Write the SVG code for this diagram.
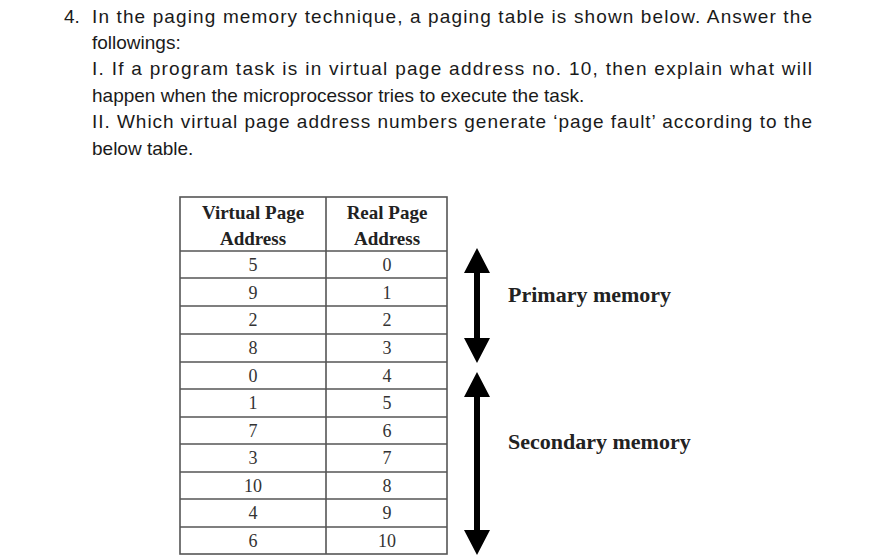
<svg xmlns="http://www.w3.org/2000/svg" width="884" height="559" viewBox="0 0 884 559">
<style>
.q{font-family:"Liberation Sans",Arial,sans-serif;font-size:19px;fill:#1a1a1a}
.h{font-family:"Liberation Serif","Times New Roman",serif;font-size:19px;font-weight:bold;fill:#222;text-anchor:middle}
.c{font-family:"Liberation Serif","Times New Roman",serif;font-size:18px;fill:#333;text-anchor:middle}
.m{font-family:"Liberation Serif","Times New Roman",serif;font-size:22px;font-weight:bold;fill:#222}
.g{stroke:#555;stroke-width:1.6;fill:none}
</style>
<rect width="884" height="559" fill="#fff"/>
<g id="question">
<text class="q" x="64" y="23">4.</text>
<text class="q" x="92" y="23" textLength="720" lengthAdjust="spacing">In the paging memory technique, a paging table is shown below. Answer the</text>
<text class="q" x="92" y="49">followings:</text>
<text class="q" x="92" y="75" textLength="720" lengthAdjust="spacing">I. If a program task is in virtual page address no. 10, then explain what will</text>
<text class="q" x="92" y="102">happen when the microprocessor tries to execute the task.</text>
<text class="q" x="92" y="128" textLength="720" lengthAdjust="spacing">II. Which virtual page address numbers generate ‘page fault’ according to the</text>
<text class="q" x="92" y="155">below table.</text>
</g>
<g id="table">
<rect class="g" x="180" y="197" width="267" height="357"/>
<line class="g" x1="326" y1="197" x2="326" y2="554"/>
<path class="g" d="M180 251H447M180 278H447M180 306H447M180 334H447M180 362H447M180 389H447M180 417H447M180 444H447M180 472H447M180 499H447M180 527H447"/>
<text class="h" x="253" y="219">Virtual Page</text>
<text class="h" x="253" y="245">Address</text>
<text class="h" x="387" y="219">Real Page</text>
<text class="h" x="387" y="245">Address</text>
<g class="c">
<text x="253" y="271">5</text><text x="387" y="271">0</text>
<text x="253" y="299">9</text><text x="387" y="299">1</text>
<text x="253" y="326">2</text><text x="387" y="326">2</text>
<text x="253" y="354">8</text><text x="387" y="354">3</text>
<text x="253" y="382">0</text><text x="387" y="382">4</text>
<text x="253" y="409">1</text><text x="387" y="409">5</text>
<text x="253" y="437">7</text><text x="387" y="437">6</text>
<text x="253" y="464">3</text><text x="387" y="464">7</text>
<text x="253" y="492">10</text><text x="387" y="492">8</text>
<text x="253" y="519">4</text><text x="387" y="519">9</text>
<text x="253" y="547">6</text><text x="387" y="547">10</text>
</g>
</g>
<g id="primary">
<polygon fill="#000" points="477,248 490,273 480,273 480,338 490,338 477,363 464,338 474,338 474,273 464,273"/>
<text class="m" x="508" y="302">Primary memory</text>
</g>
<g id="secondary">
<polygon fill="#000" points="477,372 490,397 480,397 480,530 490,530 477,555 464,530 474,530 474,397 464,397"/>
<text class="m" x="508" y="449">Secondary memory</text>
</g>
</svg>
